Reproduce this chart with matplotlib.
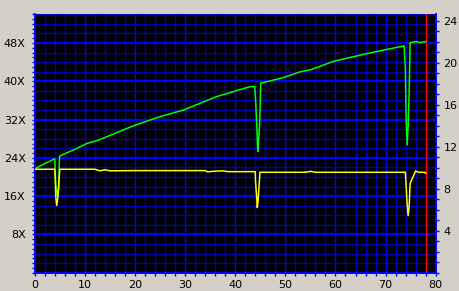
import numpy as np
import matplotlib
matplotlib.use("Agg")
import matplotlib.pyplot as plt

# read speed (X) along the disc position
pos_speed = [0, 2, 4.0, 4.2, 4.5, 4.8, 4.9, 5.0, 8.3, 10.4, 12.7, 19.7, 23, 25, 29.7, 36.3,
             43.0, 43.9, 44.1, 44.3, 44.5, 44.7, 44.9, 45.1, 49.7, 53, 55, 59.7, 66.3,
             73.7, 73.95, 74.1, 74.3, 74.5, 74.7, 74.9, 75.2, 76, 77, 78]
speed = [21.7, 22.8, 23.8, 18.5, 16.0, 17.5, 23.0, 24.4, 25.9, 27.0, 27.7, 30.7, 31.9, 32.6, 34.0, 36.8,
         38.9, 38.9, 35.5, 31.0, 25.3, 28.0, 32.0, 39.6, 40.8, 42.0, 42.4, 44.2, 45.8,
         47.4, 42.3, 31.9, 26.7, 30.5, 37.6, 48.1, 48.1, 48.3, 48.1, 48.3]

# rotation (right axis)
pos_rpm = [0, 4.0, 4.1, 4.2, 4.4, 4.6, 4.8, 5.0, 12, 13, 14, 15, 20, 34, 34.5, 35.5, 37.5, 38.5,
           44.0, 44.05, 44.3, 44.4, 44.55, 44.75, 44.95, 54, 55, 56, 73.95, 74.07, 74.3,
           74.5, 74.7, 74.9, 76, 76.5, 77.8, 78]
rpm = [9.85, 9.85, 9.0, 7.2, 6.4, 7.1, 8.5, 9.85, 9.85, 9.7, 9.8, 9.7, 9.72, 9.72, 9.6, 9.65, 9.7, 9.62,
       9.62, 8.76, 7.08, 6.2, 6.76, 8.2, 9.56, 9.56, 9.65, 9.56, 9.56, 8.57, 6.54,
       5.43, 6.29, 8.5, 9.69, 9.56, 9.56, 9.47]

left_ticks = [8, 16, 24, 32, 40, 48]
left_labels = ["8X", "16X", "24X", "32X", "40X", "48X"]
right_ticks = [4, 8, 12, 16, 20, 24]
x_ticks = [0, 10, 20, 30, 40, 50, 60, 70, 80]

W, H = 459, 291
fig = plt.figure(figsize=(W / 100, H / 100), dpi=100, facecolor="#d4d0c8")
ax = fig.add_axes([34.7 / W, (H - 272.7) / H, 401 / W, 258.4 / H])
ax.set_facecolor("black")
ax.set_xlim(0, 80)
ax.set_ylim(0, 54)

dim = "#0000b0"
bright = "#0000ff"
for x in np.arange(2, 80, 2):
    ax.axvline(x, color=bright if x % 10 == 0 else dim, lw=1.0, zorder=0)
for y in np.arange(2, 54, 2):
    if y % 8 == 0:
        ax.axhline(y, color=bright, lw=1.6, zorder=0)
    else:
        ax.axhline(y, color=dim, lw=1.0, zorder=0)
ax.axhline(54, color=dim, lw=1.0, zorder=0)
ax.axvline(78, color="#ff0000", lw=1.0, zorder=1)

ax.plot(pos_speed, speed, color="#00ff00", lw=1.1, zorder=4)

ax2 = ax.twinx()
ax2.set_ylim(0, 24.6)
ax2.plot(pos_rpm, rpm, color="#ffff00", lw=1.1, zorder=3)

for a in (ax, ax2):
    for s in a.spines.values():
        s.set_color(bright)
        s.set_linewidth(1.2)
    a.spines["top"].set_visible(False)

ax.set_xticks(x_ticks)
ax.set_xticks(np.arange(0, 81, 2), minor=True)
ax.set_yticks(left_ticks)
ax.set_yticklabels(left_labels)
ax.set_yticks(np.arange(0, 55, 1), minor=True)
ax2.set_yticks(right_ticks)
ax2.set_yticks(np.arange(0, 25, 1), minor=True)

ax.tick_params(axis="both", which="both", direction="out", color=bright, length=2.5, width=1,
               labelsize=8, labelcolor="black")
ax.tick_params(axis="x", pad=3)
ax.tick_params(axis="y", pad=4)
ax2.tick_params(axis="y", which="both", direction="out", color=bright, length=2.5, width=1,
                labelsize=8, labelcolor="black", pad=3)

fig.savefig("out.png", dpi=100, facecolor=fig.get_facecolor())
